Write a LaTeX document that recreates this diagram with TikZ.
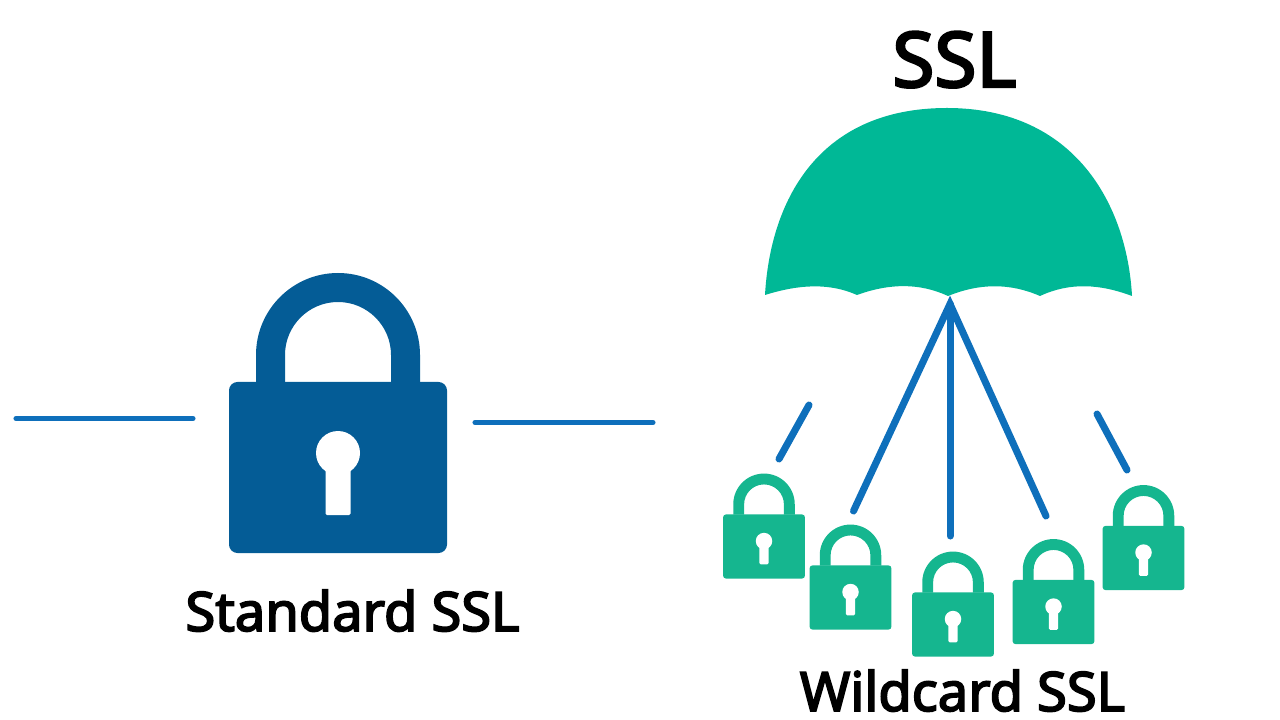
\documentclass[tikz,border=0pt]{standalone}
\usepackage{fontspec}
\setmainfont[FakeBold=3.2]{Noto Sans}
\definecolor{navylock}{HTML}{045C96}
\definecolor{greenlock}{HTML}{15B68F}
\definecolor{canopy}{HTML}{00B896}
\definecolor{wire}{HTML}{0E6FBB}
\tikzset{>=latex}
\tikzset{
  wireline/.style={draw=wire, line width=3.6pt, line cap=round},
  ribline/.style={draw=wire, line width=5pt, line cap=round},
  caption/.style={inner sep=0pt, anchor=base},
  pics/padlock/.style 2 args={code={
    \fill[#1] (-82,85) -- (-82,112.5) arc (180:0:82) -- (82,85) -- (53,85) -- (53,112.5) arc (0:180:53) -- (-53,85) -- cycle;
    \fill[#1, rounded corners=#2] (-109,-85.5) rectangle (109,85.5);
    \fill[white] (0,14.5) circle (22);
    \fill[white, rounded corners=1pt] (-12.5,5) rectangle (12.5,-47.5);
  }}
}
\begin{document}
\begin{tikzpicture}[x=0.025cm, y=0.025cm]
  \useasboundingbox (0,0) rectangle (1280,-720);
  % standard side
  \pic (bigLock) at (338,-467.5) {padlock={navylock}{6pt}};
  \node[caption, font=\fontsize{38.6}{39}\selectfont] (stdText) at (352.5,-631) {Standard SSL};
  \coordinate (wa1) at (16,-418.5);
  \coordinate (wa2) at (193,-418.5);
  \coordinate (wb1) at (475,-422.5);
  \coordinate (wb2) at (653,-422.5);
  \draw[wireline] (wa1) -- (wa2);
  \draw[wireline] (wb1) -- (wb2);
  % umbrella
  \node[caption, font=\fontsize{54.5}{55}\selectfont] (sslText) at (954.5,-87) {SSL};
  \fill[canopy] (765,-295) .. controls (770,-205) and (815,-108) .. (947,-108)
     .. controls (1075,-108) and (1127,-205) .. (1132,-296)
     .. controls (1100,-284) and (1070,-282) .. (1040,-296)
     .. controls (1010,-283) and (980,-283) .. (948,-296)
     .. controls (920,-283) and (890,-283) .. (857,-295)
     .. controls (830,-283) and (800,-284) .. (765,-295) -- cycle;
  \coordinate (apex) at (950,-304);
  \coordinate (ribA) at (853.5,-511);
  \coordinate (ribB) at (950,-536);
  \coordinate (ribC) at (1046,-516);
  \coordinate (stubA1) at (809,-405);
  \coordinate (stubA2) at (779,-459);
  \coordinate (stubB1) at (1097,-414);
  \coordinate (stubB2) at (1127,-470);
  \draw[ribline] (ribA) -- (apex) -- (ribC);
  \draw[ribline] (apex) -- (ribB);
  \draw[ribline] (stubA1) -- (stubA2);
  \draw[ribline] (stubB1) -- (stubB2);
  % small locks
  \foreach \nm/\px/\py in {a/764/546.5, b/850.5/597.5, c/953/624.5, d/1053.5/612, e/1143.5/558}
    \pic[scale=.375] (lock\nm) at (\px,-\py) {padlock={greenlock}{2pt}};
  \node[caption, font=\fontsize{38.6}{39}\selectfont] (wildText) at (962.5,-711) {Wildcard SSL};
\end{tikzpicture}
\end{document}
